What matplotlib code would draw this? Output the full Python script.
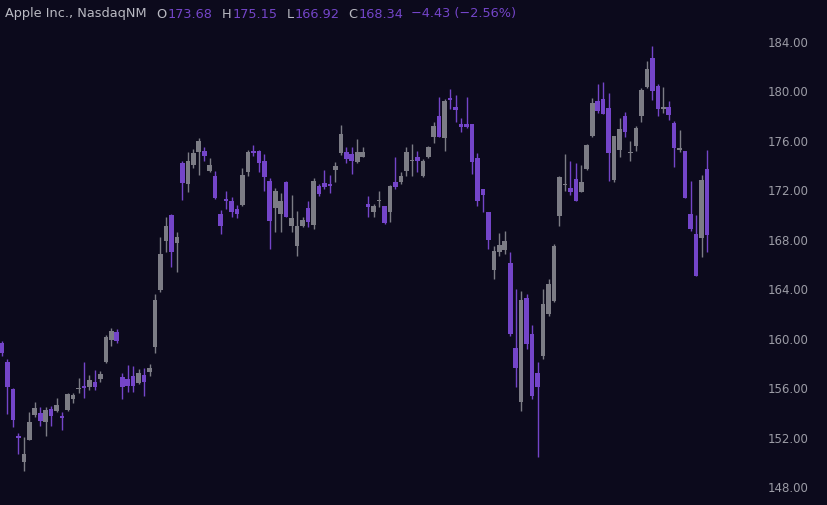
import matplotlib
matplotlib.use('Agg')
import matplotlib.pyplot as plt
import numpy as np

title = "Apple Inc., NasdaqNM"

opens = [159.55, 158.00, 155.85, 152.03, 149.97, 151.75, 153.74, 153.90, 153.20, 154.23,
         154.05, 153.66, 154.17, 155.00, 155.83, 156.10, 155.98, 156.43, 156.65, 158.07,
         159.82, 160.47, 156.78, 156.65, 156.90, 156.33, 156.98, 157.22, 159.25, 163.88,
         167.84, 169.92, 167.63, 174.13, 172.41, 173.97, 175.04, 175.10, 173.50, 173.10,
         170.00, 171.22, 171.08, 170.41, 170.73, 173.38, 175.08, 175.08, 174.27, 172.70,
         170.46, 170.00, 172.57, 169.06, 167.44, 169.01, 170.49, 169.14, 172.25, 172.49,
         172.43, 173.56, 174.91, 175.04, 174.86, 174.19, 174.64, 170.81, 170.14, 171.05,
         170.63, 170.14, 172.57, 172.57, 173.50, 174.32, 174.59, 173.10, 174.59, 176.21,
         177.96, 176.13, 179.39, 178.64, 177.28, 177.28, 177.28, 174.51, 172.03, 170.14,
         165.50, 166.90, 167.11, 166.04, 159.16, 154.82, 163.18, 160.29, 157.14, 158.49,
         161.91, 162.99, 169.82, 172.35, 172.08, 172.83, 171.81, 173.64, 176.29, 179.17,
         179.31, 178.58, 172.78, 175.20, 177.96, 174.91, 175.48, 177.96, 180.25, 182.62,
         180.38, 178.50, 178.64, 177.37, 175.20, 175.12, 170.00, 168.38, 168.04, 173.68]

highs = [159.75, 158.26, 155.90, 152.30, 151.94, 154.01, 154.77, 154.37, 154.37, 154.45,
         155.12, 153.96, 155.52, 155.52, 156.70, 158.06, 156.98, 157.40, 157.33, 160.20,
         160.82, 160.69, 157.13, 157.79, 157.70, 157.46, 157.54, 157.87, 163.57, 168.15,
         169.76, 170.00, 168.57, 174.29, 175.04, 175.26, 176.13, 175.40, 174.50, 173.50,
         170.35, 171.89, 171.35, 170.73, 173.70, 175.20, 175.59, 175.18, 174.86, 172.89,
         172.08, 171.70, 172.70, 171.54, 170.27, 169.74, 171.08, 172.89, 172.43, 173.59,
         173.16, 174.19, 177.20, 175.40, 175.40, 176.07, 175.40, 171.43, 170.81, 171.89,
         170.67, 172.35, 174.59, 173.43, 175.40, 175.67, 175.13, 174.45, 175.53, 177.42,
         179.45, 179.31, 180.12, 179.63, 177.75, 179.45, 177.28, 174.91, 172.03, 170.14,
         167.39, 168.47, 168.65, 166.90, 163.94, 163.80, 163.53, 161.05, 158.00, 163.94,
         164.74, 167.58, 173.10, 174.86, 174.32, 174.13, 173.97, 175.67, 179.36, 180.52,
         180.66, 179.79, 176.29, 177.77, 178.28, 175.93, 177.10, 180.17, 182.41, 183.57,
         180.52, 180.25, 179.17, 177.55, 176.82, 175.12, 172.70, 169.92, 173.16, 175.15]

lows = [158.50, 153.80, 152.80, 150.60, 149.24, 151.70, 153.56, 152.83, 152.07, 152.83,
        153.96, 152.55, 154.10, 154.70, 155.52, 155.12, 155.78, 155.78, 156.43, 157.93,
        159.34, 159.60, 155.00, 155.60, 155.60, 156.25, 155.28, 156.90, 158.77, 163.70,
        166.93, 165.70, 165.33, 171.16, 171.80, 173.70, 173.16, 174.32, 173.43, 171.22,
        168.38, 170.41, 169.74, 169.66, 170.67, 173.10, 174.72, 173.43, 171.89, 167.19,
        168.52, 168.52, 169.74, 168.52, 166.58, 168.93, 168.93, 168.79, 171.49, 172.03,
        171.70, 172.57, 174.78, 174.13, 173.24, 174.13, 174.59, 169.74, 169.74, 170.55,
        169.19, 169.33, 172.03, 172.43, 173.10, 173.10, 173.43, 172.97, 174.51, 175.75,
        176.21, 175.12, 178.50, 177.47, 176.66, 176.94, 173.24, 170.63, 170.14, 167.17,
        164.74, 166.58, 166.77, 160.16, 155.98, 154.09, 159.08, 155.03, 150.32, 158.27,
        161.73, 162.86, 169.06, 171.89, 171.54, 171.08, 171.76, 173.59, 176.21, 178.17,
        178.09, 172.70, 172.57, 174.59, 176.21, 174.32, 175.12, 177.47, 180.17, 179.25,
        177.91, 178.17, 177.63, 173.78, 175.00, 171.27, 168.65, 164.96, 166.50, 166.92]

closes = [158.75, 156.00, 153.35, 151.87, 150.59, 153.20, 154.28, 153.28, 154.17, 153.68,
          154.55, 153.47, 155.44, 155.39, 155.88, 155.89, 156.57, 155.98, 157.06, 160.09,
          160.55, 159.74, 155.98, 156.11, 156.11, 157.14, 156.41, 157.54, 163.03, 166.77,
          169.03, 166.93, 168.16, 172.51, 174.29, 174.91, 175.93, 174.67, 173.96, 171.30,
          169.06, 171.08, 170.14, 170.00, 173.16, 175.04, 174.94, 174.10, 173.02, 169.46,
          171.89, 171.08, 169.79, 169.68, 169.06, 169.55, 169.33, 172.70, 171.62, 172.21,
          172.24, 173.91, 176.48, 174.45, 174.32, 175.04, 175.04, 170.55, 170.67, 171.13,
          169.25, 172.29, 172.16, 173.05, 175.04, 174.40, 174.32, 174.32, 175.40, 177.15,
          176.21, 179.17, 179.25, 178.44, 177.02, 177.02, 174.19, 171.08, 171.54, 167.92,
          167.03, 167.50, 167.84, 160.29, 157.52, 163.05, 159.49, 155.25, 155.98, 162.72,
          164.34, 167.44, 173.02, 172.43, 171.81, 171.08, 172.62, 175.59, 178.98, 178.36,
          178.09, 174.94, 176.29, 176.88, 176.66, 174.99, 176.96, 180.04, 181.73, 179.93,
          178.50, 178.64, 178.01, 175.32, 175.32, 171.27, 168.79, 164.96, 172.77, 168.34]

yticks = [148, 152, 156, 160, 164, 168, 172, 176, 180, 184]

BG = '#0c0a1c'
UP = '#7c7c85'
DOWN = '#7445c9'
TXT = '#b9b9c2'
AXT = '#9c9ca6'

W, H = 827, 506
fig = plt.figure(figsize=(W / 100, H / 100), dpi=100, facecolor=BG)
ax = fig.add_axes([0, 0, 750 / W, 1], facecolor=BG)

o = np.array(opens); hi = np.array(highs); lo = np.array(lows); c = np.array(closes)
n = len(o)
x = np.arange(n)
colors = np.where(c >= o, UP, DOWN)

ax.vlines(x, lo, hi, colors=colors, lw=1.0)
bottom = np.minimum(o, c)
height = np.maximum(np.abs(c - o), 0.09)
ax.bar(x, height, bottom=bottom, width=0.84, color=colors, linewidth=0)

step = 5.465
ax.set_xlim(-2 / step, (750 - 2) / step)
ppu = 12.36
ax.set_ylim(148 - (506 - 487) / ppu, 184 + 42 / ppu)

ax.yaxis.tick_right()
ax.set_yticks(yticks)
ax.set_yticklabels([f'{v:.2f}' for v in yticks])
ax.tick_params(axis='y', length=0, pad=13, labelsize=8.5, labelcolor=AXT)
ax.set_xticks([])
for s in ax.spines.values():
    s.set_visible(False)

# header
chg = c[-1] - c[-2]
pct = chg / c[-2] * 100
pieces = [(title, TXT, 10), ("O", TXT, 1), (f"{o[-1]:.2f}", DOWN, 9),
          ("H", TXT, 1), (f"{hi[-1]:.2f}", DOWN, 9),
          ("L", TXT, 1), (f"{lo[-1]:.2f}", DOWN, 9),
          ("C", TXT, 1), (f"{c[-1]:.2f}", DOWN, 8),
          (f"{chg:.2f} ({pct:.2f}%)".replace('-', '\u2212'), DOWN, 0)]
renderer = fig.canvas.get_renderer()
xpos = 5
for s, col, gap in pieces:
    t = fig.text(xpos / W, 1 - 14 / H, s, color=col, fontsize=9.3, va='center', ha='left')
    bb = t.get_window_extent(renderer)
    xpos += bb.width + gap

fig.savefig('out.png', dpi=100, facecolor=BG)
